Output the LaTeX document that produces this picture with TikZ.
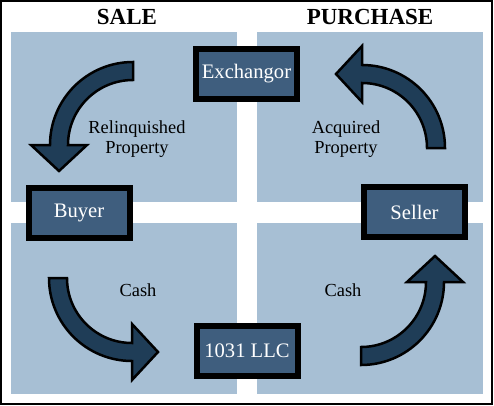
\documentclass[tikz,border=0pt]{standalone}
\usepackage{fontspec}
\setmainfont{Liberation Serif}
\usepackage{tikz}
\usetikzlibrary{positioning}
\definecolor{panelc}{HTML}{A7BFD4}
\definecolor{boxc}{HTML}{3F5E7E}
\definecolor{arrowc}{HTML}{1F3D57}
\tikzset{
  partybox/.style={draw=black, line width=6pt, fill=boxc, text=white, minimum width=101pt, minimum height=50pt, inner sep=0pt, font=\fontsize{20.6}{24}\selectfont},
  flowlabel/.style={align=center, inner sep=0pt, font=\fontsize{18.4}{20}\selectfont},
  sidetitle/.style={inner sep=0pt, font=\fontsize{23}{26}\selectfont\bfseries},
  bigarrow/.style={fill=arrowc, draw=black, line width=2.5pt, line join=miter}
}

\begin{document}
\begin{tikzpicture}[x=1pt,y=1pt]
\useasboundingbox (0,0) rectangle (494,405);
\draw[line width=2pt] (1,1.5) rectangle (491.5,404);

% four quarters
\fill[panelc] (11,203) rectangle (237,373);
\fill[panelc] (257,203) rectangle (483,373);
\fill[panelc] (11,11) rectangle (237,182);
\fill[panelc] (257,11) rectangle (483,182);

\node[sidetitle] (sale) at (127,388) {SALE};
\node[sidetitle] (purchase) at (370,388) {PURCHASE};

% curved arrows
\begin{scope}[shift={(133,260)}]
\filldraw[bigarrow] (90:83) arc[start angle=90,end angle=180,radius=83] -- (180:102) -- (-74,-26) -- (180:46) -- (180:65) arc[start angle=180,end angle=90,radius=65] -- cycle;
\end{scope}
\begin{scope}[shift={(362,257)}]
\filldraw[bigarrow] (0:83) arc[start angle=0,end angle=90,radius=83] -- (90:102) -- (-26,74) -- (90:46) -- (90:65) arc[start angle=90,end angle=0,radius=65] -- cycle;
\end{scope}
\begin{scope}[shift={(132,127)}]
\filldraw[bigarrow] (180:83) arc[start angle=180,end angle=270,radius=83] -- (270:102) -- (26,-74) -- (270:46) -- (270:65) arc[start angle=270,end angle=180,radius=65] -- cycle;
\end{scope}
\begin{scope}[shift={(361,123)}]
\filldraw[bigarrow] (270:83) arc[start angle=270,end angle=360,radius=83] -- (360:102) -- (74,26) -- (360:46) -- (360:65) arc[start angle=360,end angle=270,radius=65] -- cycle;
\end{scope}

% parties
\node[partybox] (exchangor) at (246.5,331) {Exchangor};
\node[partybox] (buyer) at (79,192) {Buyer};
\node[partybox] (seller) at (414.5,193) {Seller};
\node[partybox] (llc) at (247,54) {1031 LLC};

\node[flowlabel] (relinquished) at (137,266) {Relinquished\\Property};
\node[flowlabel] (acquired) at (346,266) {Acquired\\Property};
\node[flowlabel] (cashsale) at (138,115) {Cash};
\node[flowlabel] (cashbuy) at (343,115) {Cash};
\end{tikzpicture}
\end{document}
